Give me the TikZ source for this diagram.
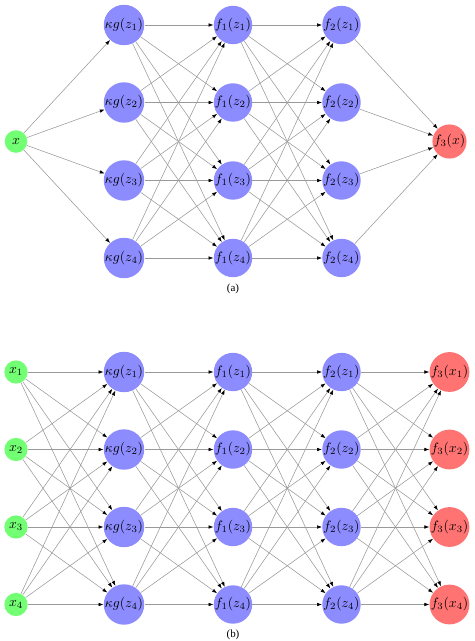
\documentclass[tikz,border=0pt]{standalone}
\usepackage{fontspec}
\newfontfamily\capfont{Liberation Serif}
\usetikzlibrary{arrows.meta}
\begin{document}
\begin{tikzpicture}[x=0.73pt,y=-0.73pt,
  neuron/.style={circle,inner sep=0pt,text=black},
  inp/.style={neuron,fill=green!55,minimum size=16.5pt},
  hid/.style={neuron,fill=blue!45},
  kg/.style={hid,minimum size=28pt},
  ff/.style={hid,minimum size=24.5pt},
  outp/.style={neuron,fill=red!55},
  conn/.style={draw=black!40,line width=0.4pt,-{Latex[length=3.6pt,width=2.6pt,color=black]}},
  captext/.style={font=\capfont\footnotesize}]
\useasboundingbox (0,0) rectangle (474,641);
% ---------- (a) ----------
\foreach \i/\y in {1/25,2/102.5,3/180.5,4/258} {
  \node[kg] (ak\i) at (124,\y) {$\kappa g(z_{\i})$};
  \node[ff] (af\i) at (233,\y) {$f_1(z_{\i})$};
  \node[ff] (ag\i) at (341.5,\y) {$f_2(z_{\i})$};
}
\node[inp] (ax) at (16,141.5) {$x$};
\node[outp,minimum size=24pt] (ao) at (449.5,141.5) {$f_3(x)$};
\foreach \i in {1,...,4} {
  \draw[conn] (ax) -- (ak\i);
  \draw[conn] (ag\i) -- (ao);
  \foreach \j in {1,...,4} {
    \draw[conn] (ak\i) -- (af\j);
    \draw[conn] (af\i) -- (ag\j);
  }
}
\node[captext] (capa) at (233,289) {(a)};
% ---------- (b) ----------
\foreach \i/\y in {1/372,2/449.5,3/527,4/604.5} {
  \node[inp,minimum size=17pt] (bx\i) at (16,\y) {$x_{\i}$};
  \node[kg] (bk\i) at (124,\y) {$\kappa g(z_{\i})$};
  \node[ff] (bf\i) at (233,\y) {$f_1(z_{\i})$};
  \node[ff] (bg\i) at (341.5,\y) {$f_2(z_{\i})$};
  \node[outp,minimum size=28.5pt] (bo\i) at (449.5,\y) {$f_3(x_{\i})$};
}
\foreach \i in {1,...,4} {
  \foreach \j in {1,...,4} {
    \draw[conn] (bx\i) -- (bk\j);
    \draw[conn] (bk\i) -- (bf\j);
    \draw[conn] (bf\i) -- (bg\j);
    \draw[conn] (bg\i) -- (bo\j);
  }
}
\node[captext] (capb) at (233,635) {(b)};
\end{tikzpicture}
\end{document}
